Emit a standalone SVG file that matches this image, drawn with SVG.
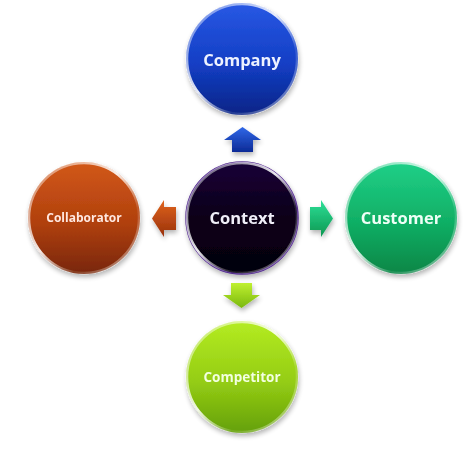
<svg xmlns="http://www.w3.org/2000/svg" width="474" height="452" viewBox="0 0 474 452">
<style>
.lbl{font-family:"Open Sans","Liberation Sans",sans-serif;font-weight:bold;text-anchor:middle;dominant-baseline:central}
.rim{fill:none;stroke:url(#rim);stroke-width:2.5}
</style>
<defs>
<filter id="sh" x="-20%" y="-20%" width="140%" height="140%">
<feGaussianBlur in="SourceAlpha" stdDeviation="2.5"/>
<feOffset dx="1" dy="3" result="b"/>
<feComponentTransfer><feFuncA type="linear" slope="0.3"/></feComponentTransfer>
<feMerge><feMergeNode/><feMergeNode in="SourceGraphic"/></feMerge>
</filter>
<linearGradient id="rim" x1="0" y1="0" x2="1" y2="1">
<stop offset="0" stop-color="#fff" stop-opacity="0.2"/>
<stop offset="0.45" stop-color="#fff" stop-opacity="0.9"/>
<stop offset="0.7" stop-color="#fff" stop-opacity="0.1"/>
<stop offset="1" stop-color="#fff" stop-opacity="0.6"/>
</linearGradient>
<linearGradient id="gBlue" x1="0" y1="0" x2="0" y2="1">
<stop offset="0" stop-color="#2858e4"/><stop offset="0.55" stop-color="#133ec4"/><stop offset="1" stop-color="#0a2486"/>
</linearGradient>
<linearGradient id="gDark" x1="0" y1="0" x2="0" y2="1">
<stop offset="0" stop-color="#1a0638"/><stop offset="0.5" stop-color="#0a0018"/><stop offset="1" stop-color="#04000c"/>
</linearGradient>
<linearGradient id="gOrange" x1="0" y1="0" x2="0" y2="1">
<stop offset="0" stop-color="#d25818"/><stop offset="0.55" stop-color="#b0400e"/><stop offset="1" stop-color="#782608"/>
</linearGradient>
<linearGradient id="gGreen" x1="0" y1="0" x2="0" y2="1">
<stop offset="0" stop-color="#20d088"/><stop offset="0.55" stop-color="#10ae64"/><stop offset="1" stop-color="#0a8646"/>
</linearGradient>
<linearGradient id="gLime" x1="0" y1="0" x2="0" y2="1">
<stop offset="0" stop-color="#b4ec22"/><stop offset="0.55" stop-color="#94cc14"/><stop offset="1" stop-color="#64a008"/>
</linearGradient>
<linearGradient id="aBlue" x1="0" y1="0" x2="0" y2="1"><stop offset="0" stop-color="#3068e8"/><stop offset="1" stop-color="#0c2a96"/></linearGradient>
<linearGradient id="aOrange" x1="0" y1="0" x2="0" y2="1"><stop offset="0" stop-color="#e0641e"/><stop offset="1" stop-color="#98300a"/></linearGradient>
<linearGradient id="aGreen" x1="0" y1="0" x2="0" y2="1"><stop offset="0" stop-color="#2ee098"/><stop offset="1" stop-color="#0c9650"/></linearGradient>
<linearGradient id="aLime" x1="0" y1="0" x2="0" y2="1"><stop offset="0" stop-color="#bff030"/><stop offset="1" stop-color="#7ab80e"/></linearGradient>
</defs>

<g id="connectors" filter="url(#sh)">
<polygon id="arrow-up" points="242.5,127 261,140 253,140 253,152 232,152 232,140 224,140" fill="url(#aBlue)"/>
<polygon id="arrow-left" points="152,218.5 164,200 164,207 176,207 176,230 164,230 164,237" fill="url(#aOrange)"/>
<polygon id="arrow-right" points="333,218.5 321,200 321,207 310,207 310,230 321,230 321,237" fill="url(#aGreen)"/>
<polygon id="arrow-down" points="241.5,308 260,295 252,295 252,283 231,283 231,295 223,295" fill="url(#aLime)"/>
</g>

<g id="node-company" filter="url(#sh)">
<circle cx="242" cy="59" r="56" fill="url(#gBlue)"/>
<circle class="rim" cx="242" cy="59" r="55"/>
<text class="lbl" x="242" y="59" font-size="16.5" fill="#eef2ff">Company</text>
</g>

<g id="node-context" filter="url(#sh)">
<circle cx="242" cy="218" r="56" fill="url(#gDark)" stroke="#4a2088" stroke-width="1.5"/>
<circle class="rim" cx="242" cy="218" r="55"/>
<text class="lbl" x="242" y="217" font-size="16.5" fill="#f0eef8">Context</text>
</g>

<g id="node-collaborator" filter="url(#sh)">
<circle cx="84" cy="218" r="56" fill="url(#gOrange)"/>
<circle class="rim" cx="84" cy="218" r="55"/>
<text class="lbl" x="84" y="217" font-size="12" fill="#ffe8e0">Collaborator</text>
</g>

<g id="node-customer" filter="url(#sh)">
<circle cx="401" cy="218" r="56" fill="url(#gGreen)"/>
<circle class="rim" cx="401" cy="218" r="55"/>
<text class="lbl" x="401" y="217" font-size="16.5" fill="#eefff6">Customer</text>
</g>

<g id="node-competitor" filter="url(#sh)">
<circle cx="242" cy="377" r="56" fill="url(#gLime)"/>
<circle class="rim" cx="242" cy="377" r="55"/>
<text class="lbl" x="242" y="377" font-size="13.5" fill="#f2ffe0">Competitor</text>
</g>
</svg>
